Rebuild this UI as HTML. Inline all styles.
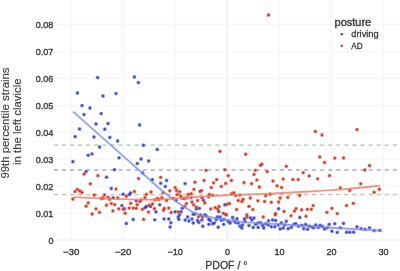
<!DOCTYPE html><html><head><meta charset="utf-8"><title>Scatter plot</title><style>html,body{margin:0;padding:0;background:#fff;}body{width:400px;height:271px;overflow:hidden;}svg{display:block;}</style></head><body><svg width="400" height="271" viewBox="0 0 400 271"><line x1="71.5" y1="0" x2="71.5" y2="240" stroke="#f5f5f7" stroke-width="1.3"/>
<line x1="123.5" y1="0" x2="123.5" y2="240" stroke="#f5f5f7" stroke-width="1.3"/>
<line x1="175.5" y1="0" x2="175.5" y2="240" stroke="#f5f5f7" stroke-width="1.3"/>
<line x1="279.5" y1="0" x2="279.5" y2="240" stroke="#f5f5f7" stroke-width="1.3"/>
<line x1="331.5" y1="0" x2="331.5" y2="240" stroke="#f5f5f7" stroke-width="1.3"/>
<line x1="383.5" y1="0" x2="383.5" y2="240" stroke="#f5f5f7" stroke-width="1.3"/>
<line x1="55.5" y1="213.06" x2="400" y2="213.06" stroke="#f5f5f7" stroke-width="1.3"/>
<line x1="55.5" y1="186.12" x2="400" y2="186.12" stroke="#f5f5f7" stroke-width="1.3"/>
<line x1="55.5" y1="159.18" x2="400" y2="159.18" stroke="#f5f5f7" stroke-width="1.3"/>
<line x1="55.5" y1="132.24" x2="400" y2="132.24" stroke="#f5f5f7" stroke-width="1.3"/>
<line x1="55.5" y1="105.3" x2="400" y2="105.3" stroke="#f5f5f7" stroke-width="1.3"/>
<line x1="55.5" y1="78.36" x2="400" y2="78.36" stroke="#f5f5f7" stroke-width="1.3"/>
<line x1="55.5" y1="51.42" x2="400" y2="51.42" stroke="#f5f5f7" stroke-width="1.3"/>
<line x1="55.5" y1="24.48" x2="400" y2="24.48" stroke="#f5f5f7" stroke-width="1.3"/>
<line x1="227.4" y1="0" x2="227.4" y2="241" stroke="#f0f1f4" stroke-width="1.7"/>
<line x1="55.5" y1="240.1" x2="400" y2="240.1" stroke="#f0f1f4" stroke-width="1.7"/>
<line x1="53.9" y1="145.1" x2="400" y2="145.1" stroke="#80bc8c" stroke-width="0.95" stroke-dasharray="4 4.07"/>
<line x1="53.9" y1="170" x2="400" y2="170" stroke="#6f77cc" stroke-width="0.95" stroke-dasharray="4 4.07"/>
<line x1="53.9" y1="194.7" x2="400" y2="194.7" stroke="#e2948e" stroke-width="0.95" stroke-dasharray="4 4.07"/>
<g fill="#4f5ce8" fill-opacity="0.75"><circle cx="97.6" cy="77.6" r="1.9"/><circle cx="134.4" cy="77" r="1.9"/><circle cx="138.4" cy="82.6" r="1.9"/><circle cx="77.4" cy="93" r="1.9"/><circle cx="103" cy="96" r="1.9"/><circle cx="116" cy="93.6" r="1.9"/><circle cx="82" cy="105.6" r="1.9"/><circle cx="90" cy="108" r="1.9"/><circle cx="84" cy="114.6" r="1.9"/><circle cx="101.2" cy="113.6" r="1.9"/><circle cx="96" cy="124" r="1.9"/><circle cx="108" cy="123.6" r="1.9"/><circle cx="79.6" cy="129" r="1.9"/><circle cx="104.8" cy="129.2" r="1.9"/><circle cx="139.6" cy="125" r="1.9"/><circle cx="75.2" cy="136.6" r="1.9"/><circle cx="94" cy="137" r="1.9"/><circle cx="109.8" cy="137.4" r="1.9"/><circle cx="117.6" cy="141" r="1.9"/><circle cx="99.6" cy="147" r="1.9"/><circle cx="92" cy="153.9" r="1.9"/><circle cx="143.4" cy="145.2" r="1.9"/><circle cx="157.2" cy="149.4" r="1.9"/><circle cx="88.2" cy="155.3" r="1.9"/><circle cx="72.9" cy="161.7" r="1.9"/><circle cx="86.1" cy="171.6" r="1.9"/><circle cx="119" cy="157.8" r="1.9"/><circle cx="141.1" cy="159" r="1.9"/><circle cx="148.6" cy="161" r="1.9"/><circle cx="137.3" cy="163.4" r="1.9"/><circle cx="114.5" cy="169.7" r="1.9"/><circle cx="142.6" cy="172.9" r="1.9"/><circle cx="106.5" cy="177.2" r="1.9"/><circle cx="152.3" cy="179.6" r="1.9"/><circle cx="166.6" cy="180.5" r="1.9"/><circle cx="160.7" cy="183.2" r="1.9"/><circle cx="185.1" cy="183.6" r="1.9"/><circle cx="111.3" cy="188.5" r="1.9"/><circle cx="123.2" cy="194.2" r="1.9"/><circle cx="129.4" cy="194.5" r="1.9"/><circle cx="130.7" cy="193" r="1.9"/><circle cx="113.2" cy="197.8" r="1.9"/><circle cx="136.1" cy="200.8" r="1.9"/><circle cx="121.9" cy="205.6" r="1.9"/><circle cx="145.1" cy="207.7" r="1.9"/><circle cx="146.4" cy="206.4" r="1.9"/><circle cx="124.4" cy="208.7" r="1.9"/><circle cx="165.3" cy="186.4" r="1.9"/><circle cx="176.1" cy="200.2" r="1.9"/><circle cx="191.1" cy="197.7" r="1.9"/><circle cx="159.8" cy="204.8" r="1.9"/><circle cx="150.6" cy="206.4" r="1.9"/><circle cx="156" cy="211.8" r="1.9"/><circle cx="175.1" cy="211.8" r="1.9"/><circle cx="181.1" cy="211.8" r="1.9"/><circle cx="182.3" cy="208.3" r="1.9"/><circle cx="193.2" cy="214.3" r="1.9"/><circle cx="179.5" cy="214.8" r="1.9"/><circle cx="203.5" cy="200.2" r="1.9"/><circle cx="224.8" cy="204.8" r="1.9"/><circle cx="199.4" cy="208.3" r="1.9"/><circle cx="196.3" cy="208.9" r="1.9"/><circle cx="218.8" cy="211.4" r="1.9"/><circle cx="195" cy="214" r="1.9"/><circle cx="205" cy="214.8" r="1.9"/><circle cx="200.7" cy="214.8" r="1.9"/><circle cx="226.3" cy="214.6" r="1.9"/><circle cx="278.6" cy="208.7" r="1.9"/><circle cx="133.2" cy="219.5" r="1.9"/><circle cx="126.3" cy="223.5" r="1.9"/><circle cx="154.8" cy="219.8" r="1.9"/><circle cx="164" cy="218.9" r="1.9"/><circle cx="168.8" cy="218.9" r="1.9"/><circle cx="170.9" cy="222.7" r="1.9"/><circle cx="170.1" cy="227" r="1.9"/><circle cx="178.2" cy="217" r="1.9"/><circle cx="178.8" cy="219.3" r="1.9"/><circle cx="185.1" cy="220.1" r="1.9"/><circle cx="187.6" cy="217" r="1.9"/><circle cx="188.9" cy="221" r="1.9"/><circle cx="192" cy="218.9" r="1.9"/><circle cx="193.2" cy="223" r="1.9"/><circle cx="206.3" cy="216.1" r="1.9"/><circle cx="197.5" cy="220.5" r="1.9"/><circle cx="198.8" cy="222.4" r="1.9"/><circle cx="201.9" cy="219.9" r="1.9"/><circle cx="208.8" cy="219.3" r="1.9"/><circle cx="210.3" cy="220.5" r="1.9"/><circle cx="216.3" cy="219.5" r="1.9"/><circle cx="217.3" cy="217" r="1.9"/><circle cx="220.1" cy="217" r="1.9"/><circle cx="221.3" cy="220.3" r="1.9"/><circle cx="223.8" cy="219.5" r="1.9"/><circle cx="228.2" cy="221.5" r="1.9"/><circle cx="232.6" cy="217.4" r="1.9"/><circle cx="237" cy="218.7" r="1.9"/><circle cx="233.9" cy="220.8" r="1.9"/><circle cx="230.1" cy="223" r="1.9"/><circle cx="238.2" cy="223" r="1.9"/><circle cx="208.8" cy="224.3" r="1.9"/><circle cx="212.6" cy="223.7" r="1.9"/><circle cx="214.4" cy="223" r="1.9"/><circle cx="223.6" cy="224.3" r="1.9"/><circle cx="202.8" cy="226.2" r="1.9"/><circle cx="218.2" cy="227.2" r="1.9"/><circle cx="244.4" cy="219" r="1.9"/><circle cx="250.3" cy="217.8" r="1.9"/><circle cx="254" cy="218" r="1.9"/><circle cx="251.9" cy="219.9" r="1.9"/><circle cx="245" cy="221.5" r="1.9"/><circle cx="235.6" cy="222.4" r="1.9"/><circle cx="240" cy="226.2" r="1.9"/><circle cx="242.5" cy="224.9" r="1.9"/><circle cx="241.9" cy="228" r="1.9"/><circle cx="249" cy="225.5" r="1.9"/><circle cx="253.2" cy="227.4" r="1.9"/><circle cx="255.7" cy="224.3" r="1.9"/><circle cx="258.2" cy="222.8" r="1.9"/><circle cx="260.7" cy="222.8" r="1.9"/><circle cx="258.2" cy="227.4" r="1.9"/><circle cx="262.6" cy="225.5" r="1.9"/><circle cx="263.8" cy="228" r="1.9"/><circle cx="265.7" cy="223.7" r="1.9"/><circle cx="268.6" cy="220.8" r="1.9"/><circle cx="268.2" cy="224.9" r="1.9"/><circle cx="271.3" cy="226.8" r="1.9"/><circle cx="272.6" cy="219.9" r="1.9"/><circle cx="275.7" cy="220.5" r="1.9"/><circle cx="274.8" cy="226.8" r="1.9"/><circle cx="278.2" cy="224.9" r="1.9"/><circle cx="281.4" cy="222.8" r="1.9"/><circle cx="280.1" cy="229" r="1.9"/><circle cx="283.2" cy="228" r="1.9"/><circle cx="299.8" cy="217.4" r="1.9"/><circle cx="286.3" cy="221.2" r="1.9"/><circle cx="284.8" cy="224.9" r="1.9"/><circle cx="288.1" cy="228.7" r="1.9"/><circle cx="291.3" cy="227.4" r="1.9"/><circle cx="293.8" cy="224.3" r="1.9"/><circle cx="295.7" cy="223.7" r="1.9"/><circle cx="298.5" cy="226.2" r="1.9"/><circle cx="301.9" cy="225.3" r="1.9"/><circle cx="305.7" cy="224.3" r="1.9"/><circle cx="303.8" cy="228.7" r="1.9"/><circle cx="307.6" cy="229.3" r="1.9"/><circle cx="309.4" cy="226.2" r="1.9"/><circle cx="312" cy="226.8" r="1.9"/><circle cx="313.6" cy="227.8" r="1.9"/><circle cx="315.7" cy="224.9" r="1.9"/><circle cx="318.2" cy="227.4" r="1.9"/><circle cx="320.1" cy="225.3" r="1.9"/><circle cx="322.6" cy="226.5" r="1.9"/><circle cx="324.5" cy="229" r="1.9"/><circle cx="327.4" cy="227.8" r="1.9"/><circle cx="329.1" cy="224.3" r="1.9"/><circle cx="334.8" cy="223.7" r="1.9"/><circle cx="343.5" cy="223.4" r="1.9"/><circle cx="331.9" cy="231.2" r="1.9"/><circle cx="337.3" cy="232.4" r="1.9"/><circle cx="340.3" cy="227.8" r="1.9"/><circle cx="346.6" cy="232.2" r="1.9"/><circle cx="349.8" cy="232.2" r="1.9"/><circle cx="353.6" cy="232.2" r="1.9"/><circle cx="357" cy="226.8" r="1.9"/><circle cx="361.1" cy="228.7" r="1.9"/><circle cx="365.1" cy="229.3" r="1.9"/><circle cx="369.5" cy="227.8" r="1.9"/><circle cx="374.1" cy="230.6" r="1.9"/><circle cx="379.8" cy="230.3" r="1.9"/></g>
<g fill="#3540ae"><circle cx="97.6" cy="77.6" r="1.0"/><circle cx="134.4" cy="77" r="1.0"/><circle cx="138.4" cy="82.6" r="1.0"/><circle cx="77.4" cy="93" r="1.0"/><circle cx="103" cy="96" r="1.0"/><circle cx="116" cy="93.6" r="1.0"/><circle cx="82" cy="105.6" r="1.0"/><circle cx="90" cy="108" r="1.0"/><circle cx="84" cy="114.6" r="1.0"/><circle cx="101.2" cy="113.6" r="1.0"/><circle cx="96" cy="124" r="1.0"/><circle cx="108" cy="123.6" r="1.0"/><circle cx="79.6" cy="129" r="1.0"/><circle cx="104.8" cy="129.2" r="1.0"/><circle cx="139.6" cy="125" r="1.0"/><circle cx="75.2" cy="136.6" r="1.0"/><circle cx="94" cy="137" r="1.0"/><circle cx="109.8" cy="137.4" r="1.0"/><circle cx="117.6" cy="141" r="1.0"/><circle cx="99.6" cy="147" r="1.0"/><circle cx="92" cy="153.9" r="1.0"/><circle cx="143.4" cy="145.2" r="1.0"/><circle cx="157.2" cy="149.4" r="1.0"/><circle cx="88.2" cy="155.3" r="1.0"/><circle cx="72.9" cy="161.7" r="1.0"/><circle cx="86.1" cy="171.6" r="1.0"/><circle cx="119" cy="157.8" r="1.0"/><circle cx="141.1" cy="159" r="1.0"/><circle cx="148.6" cy="161" r="1.0"/><circle cx="137.3" cy="163.4" r="1.0"/><circle cx="114.5" cy="169.7" r="1.0"/><circle cx="142.6" cy="172.9" r="1.0"/><circle cx="106.5" cy="177.2" r="1.0"/><circle cx="152.3" cy="179.6" r="1.0"/><circle cx="166.6" cy="180.5" r="1.0"/><circle cx="160.7" cy="183.2" r="1.0"/><circle cx="185.1" cy="183.6" r="1.0"/><circle cx="111.3" cy="188.5" r="1.0"/><circle cx="123.2" cy="194.2" r="1.0"/><circle cx="129.4" cy="194.5" r="1.0"/><circle cx="130.7" cy="193" r="1.0"/><circle cx="113.2" cy="197.8" r="1.0"/><circle cx="136.1" cy="200.8" r="1.0"/><circle cx="121.9" cy="205.6" r="1.0"/><circle cx="145.1" cy="207.7" r="1.0"/><circle cx="146.4" cy="206.4" r="1.0"/><circle cx="124.4" cy="208.7" r="1.0"/><circle cx="165.3" cy="186.4" r="1.0"/><circle cx="176.1" cy="200.2" r="1.0"/><circle cx="191.1" cy="197.7" r="1.0"/><circle cx="159.8" cy="204.8" r="1.0"/><circle cx="150.6" cy="206.4" r="1.0"/><circle cx="156" cy="211.8" r="1.0"/><circle cx="175.1" cy="211.8" r="1.0"/><circle cx="181.1" cy="211.8" r="1.0"/><circle cx="182.3" cy="208.3" r="1.0"/><circle cx="193.2" cy="214.3" r="1.0"/><circle cx="179.5" cy="214.8" r="1.0"/><circle cx="203.5" cy="200.2" r="1.0"/><circle cx="224.8" cy="204.8" r="1.0"/><circle cx="199.4" cy="208.3" r="1.0"/><circle cx="196.3" cy="208.9" r="1.0"/><circle cx="218.8" cy="211.4" r="1.0"/><circle cx="195" cy="214" r="1.0"/><circle cx="205" cy="214.8" r="1.0"/><circle cx="200.7" cy="214.8" r="1.0"/><circle cx="226.3" cy="214.6" r="1.0"/><circle cx="278.6" cy="208.7" r="1.0"/><circle cx="133.2" cy="219.5" r="1.0"/><circle cx="126.3" cy="223.5" r="1.0"/><circle cx="154.8" cy="219.8" r="1.0"/><circle cx="164" cy="218.9" r="1.0"/><circle cx="168.8" cy="218.9" r="1.0"/><circle cx="170.9" cy="222.7" r="1.0"/><circle cx="170.1" cy="227" r="1.0"/><circle cx="178.2" cy="217" r="1.0"/><circle cx="178.8" cy="219.3" r="1.0"/><circle cx="185.1" cy="220.1" r="1.0"/><circle cx="187.6" cy="217" r="1.0"/><circle cx="188.9" cy="221" r="1.0"/><circle cx="192" cy="218.9" r="1.0"/><circle cx="193.2" cy="223" r="1.0"/><circle cx="206.3" cy="216.1" r="1.0"/><circle cx="197.5" cy="220.5" r="1.0"/><circle cx="198.8" cy="222.4" r="1.0"/><circle cx="201.9" cy="219.9" r="1.0"/><circle cx="208.8" cy="219.3" r="1.0"/><circle cx="210.3" cy="220.5" r="1.0"/><circle cx="216.3" cy="219.5" r="1.0"/><circle cx="217.3" cy="217" r="1.0"/><circle cx="220.1" cy="217" r="1.0"/><circle cx="221.3" cy="220.3" r="1.0"/><circle cx="223.8" cy="219.5" r="1.0"/><circle cx="228.2" cy="221.5" r="1.0"/><circle cx="232.6" cy="217.4" r="1.0"/><circle cx="237" cy="218.7" r="1.0"/><circle cx="233.9" cy="220.8" r="1.0"/><circle cx="230.1" cy="223" r="1.0"/><circle cx="238.2" cy="223" r="1.0"/><circle cx="208.8" cy="224.3" r="1.0"/><circle cx="212.6" cy="223.7" r="1.0"/><circle cx="214.4" cy="223" r="1.0"/><circle cx="223.6" cy="224.3" r="1.0"/><circle cx="202.8" cy="226.2" r="1.0"/><circle cx="218.2" cy="227.2" r="1.0"/><circle cx="244.4" cy="219" r="1.0"/><circle cx="250.3" cy="217.8" r="1.0"/><circle cx="254" cy="218" r="1.0"/><circle cx="251.9" cy="219.9" r="1.0"/><circle cx="245" cy="221.5" r="1.0"/><circle cx="235.6" cy="222.4" r="1.0"/><circle cx="240" cy="226.2" r="1.0"/><circle cx="242.5" cy="224.9" r="1.0"/><circle cx="241.9" cy="228" r="1.0"/><circle cx="249" cy="225.5" r="1.0"/><circle cx="253.2" cy="227.4" r="1.0"/><circle cx="255.7" cy="224.3" r="1.0"/><circle cx="258.2" cy="222.8" r="1.0"/><circle cx="260.7" cy="222.8" r="1.0"/><circle cx="258.2" cy="227.4" r="1.0"/><circle cx="262.6" cy="225.5" r="1.0"/><circle cx="263.8" cy="228" r="1.0"/><circle cx="265.7" cy="223.7" r="1.0"/><circle cx="268.6" cy="220.8" r="1.0"/><circle cx="268.2" cy="224.9" r="1.0"/><circle cx="271.3" cy="226.8" r="1.0"/><circle cx="272.6" cy="219.9" r="1.0"/><circle cx="275.7" cy="220.5" r="1.0"/><circle cx="274.8" cy="226.8" r="1.0"/><circle cx="278.2" cy="224.9" r="1.0"/><circle cx="281.4" cy="222.8" r="1.0"/><circle cx="280.1" cy="229" r="1.0"/><circle cx="283.2" cy="228" r="1.0"/><circle cx="299.8" cy="217.4" r="1.0"/><circle cx="286.3" cy="221.2" r="1.0"/><circle cx="284.8" cy="224.9" r="1.0"/><circle cx="288.1" cy="228.7" r="1.0"/><circle cx="291.3" cy="227.4" r="1.0"/><circle cx="293.8" cy="224.3" r="1.0"/><circle cx="295.7" cy="223.7" r="1.0"/><circle cx="298.5" cy="226.2" r="1.0"/><circle cx="301.9" cy="225.3" r="1.0"/><circle cx="305.7" cy="224.3" r="1.0"/><circle cx="303.8" cy="228.7" r="1.0"/><circle cx="307.6" cy="229.3" r="1.0"/><circle cx="309.4" cy="226.2" r="1.0"/><circle cx="312" cy="226.8" r="1.0"/><circle cx="313.6" cy="227.8" r="1.0"/><circle cx="315.7" cy="224.9" r="1.0"/><circle cx="318.2" cy="227.4" r="1.0"/><circle cx="320.1" cy="225.3" r="1.0"/><circle cx="322.6" cy="226.5" r="1.0"/><circle cx="324.5" cy="229" r="1.0"/><circle cx="327.4" cy="227.8" r="1.0"/><circle cx="329.1" cy="224.3" r="1.0"/><circle cx="334.8" cy="223.7" r="1.0"/><circle cx="343.5" cy="223.4" r="1.0"/><circle cx="331.9" cy="231.2" r="1.0"/><circle cx="337.3" cy="232.4" r="1.0"/><circle cx="340.3" cy="227.8" r="1.0"/><circle cx="346.6" cy="232.2" r="1.0"/><circle cx="349.8" cy="232.2" r="1.0"/><circle cx="353.6" cy="232.2" r="1.0"/><circle cx="357" cy="226.8" r="1.0"/><circle cx="361.1" cy="228.7" r="1.0"/><circle cx="365.1" cy="229.3" r="1.0"/><circle cx="369.5" cy="227.8" r="1.0"/><circle cx="374.1" cy="230.6" r="1.0"/><circle cx="379.8" cy="230.3" r="1.0"/></g>
<g fill="#f0502f" fill-opacity="0.75"><circle cx="268.5" cy="15" r="1.9"/><circle cx="220" cy="151.3" r="1.9"/><circle cx="245.7" cy="154.2" r="1.9"/><circle cx="315.4" cy="131.4" r="1.9"/><circle cx="322" cy="135" r="1.9"/><circle cx="357" cy="129.6" r="1.9"/><circle cx="84.1" cy="174.1" r="1.9"/><circle cx="97.9" cy="175.7" r="1.9"/><circle cx="90.3" cy="183.8" r="1.9"/><circle cx="138.6" cy="178.6" r="1.9"/><circle cx="160.7" cy="177.3" r="1.9"/><circle cx="194.9" cy="182.2" r="1.9"/><circle cx="206" cy="170.3" r="1.9"/><circle cx="224.8" cy="169.7" r="1.9"/><circle cx="228.2" cy="175.7" r="1.9"/><circle cx="204" cy="180.5" r="1.9"/><circle cx="216.7" cy="179.6" r="1.9"/><circle cx="231.4" cy="180.5" r="1.9"/><circle cx="213.6" cy="182.8" r="1.9"/><circle cx="225.7" cy="183.4" r="1.9"/><circle cx="260.4" cy="165.3" r="1.9"/><circle cx="261.9" cy="164.2" r="1.9"/><circle cx="255.3" cy="170.3" r="1.9"/><circle cx="267.3" cy="171.7" r="1.9"/><circle cx="254" cy="174.4" r="1.9"/><circle cx="256.9" cy="180.1" r="1.9"/><circle cx="273" cy="181" r="1.9"/><circle cx="283.2" cy="179.1" r="1.9"/><circle cx="244" cy="182.6" r="1.9"/><circle cx="251.5" cy="183.7" r="1.9"/><circle cx="286.3" cy="166.3" r="1.9"/><circle cx="319.8" cy="156.9" r="1.9"/><circle cx="324.5" cy="162.5" r="1.9"/><circle cx="303.2" cy="172.7" r="1.9"/><circle cx="309.2" cy="175.9" r="1.9"/><circle cx="329.5" cy="175.7" r="1.9"/><circle cx="292.8" cy="179.6" r="1.9"/><circle cx="298.2" cy="179.6" r="1.9"/><circle cx="317.6" cy="178.8" r="1.9"/><circle cx="334.8" cy="158.1" r="1.9"/><circle cx="343.5" cy="157.9" r="1.9"/><circle cx="369.5" cy="165.7" r="1.9"/><circle cx="364.8" cy="170" r="1.9"/><circle cx="360.7" cy="183.8" r="1.9"/><circle cx="75" cy="191.6" r="1.9"/><circle cx="77.3" cy="189.3" r="1.9"/><circle cx="79.8" cy="191" r="1.9"/><circle cx="82" cy="192.4" r="1.9"/><circle cx="94.2" cy="195" r="1.9"/><circle cx="104.5" cy="195" r="1.9"/><circle cx="72.9" cy="199" r="1.9"/><circle cx="101.4" cy="198.5" r="1.9"/><circle cx="103.2" cy="198" r="1.9"/><circle cx="88.2" cy="202.9" r="1.9"/><circle cx="86.1" cy="206.2" r="1.9"/><circle cx="96" cy="208.8" r="1.9"/><circle cx="99.5" cy="212.3" r="1.9"/><circle cx="92.1" cy="214" r="1.9"/><circle cx="116" cy="189.1" r="1.9"/><circle cx="134.5" cy="191.4" r="1.9"/><circle cx="108.1" cy="197.3" r="1.9"/><circle cx="109.8" cy="199.3" r="1.9"/><circle cx="117.8" cy="197.9" r="1.9"/><circle cx="126.3" cy="196.2" r="1.9"/><circle cx="146.4" cy="194.3" r="1.9"/><circle cx="144.9" cy="197.7" r="1.9"/><circle cx="141.1" cy="199.9" r="1.9"/><circle cx="139.8" cy="201.4" r="1.9"/><circle cx="106.5" cy="205.2" r="1.9"/><circle cx="111.3" cy="203.6" r="1.9"/><circle cx="114.8" cy="204.7" r="1.9"/><circle cx="130.7" cy="203.3" r="1.9"/><circle cx="137.2" cy="204.7" r="1.9"/><circle cx="149.2" cy="205.2" r="1.9"/><circle cx="118.8" cy="208.8" r="1.9"/><circle cx="123.2" cy="209.3" r="1.9"/><circle cx="129.1" cy="208.1" r="1.9"/><circle cx="133.2" cy="208.1" r="1.9"/><circle cx="136.1" cy="208.3" r="1.9"/><circle cx="142.4" cy="209.2" r="1.9"/><circle cx="112.9" cy="210.8" r="1.9"/><circle cx="125.1" cy="213.2" r="1.9"/><circle cx="148.5" cy="212.1" r="1.9"/><circle cx="175.1" cy="187.6" r="1.9"/><circle cx="169.8" cy="190.8" r="1.9"/><circle cx="176.6" cy="190.5" r="1.9"/><circle cx="179.8" cy="191.8" r="1.9"/><circle cx="193.9" cy="189.3" r="1.9"/><circle cx="151" cy="192" r="1.9"/><circle cx="163.2" cy="192.7" r="1.9"/><circle cx="177.3" cy="194.5" r="1.9"/><circle cx="188.2" cy="194.3" r="1.9"/><circle cx="191.1" cy="193.7" r="1.9"/><circle cx="180.7" cy="196" r="1.9"/><circle cx="161.9" cy="197.7" r="1.9"/><circle cx="157.5" cy="198.5" r="1.9"/><circle cx="155" cy="199.8" r="1.9"/><circle cx="159" cy="199.5" r="1.9"/><circle cx="166.6" cy="200.5" r="1.9"/><circle cx="173.2" cy="198.3" r="1.9"/><circle cx="182.3" cy="198.3" r="1.9"/><circle cx="184.5" cy="198.5" r="1.9"/><circle cx="187" cy="197.7" r="1.9"/><circle cx="192" cy="202" r="1.9"/><circle cx="186.4" cy="203.6" r="1.9"/><circle cx="193.6" cy="204.8" r="1.9"/><circle cx="184.8" cy="206.4" r="1.9"/><circle cx="152.5" cy="203.9" r="1.9"/><circle cx="154.4" cy="208.7" r="1.9"/><circle cx="164.4" cy="208.3" r="1.9"/><circle cx="163.5" cy="210.2" r="1.9"/><circle cx="168.8" cy="208.1" r="1.9"/><circle cx="171.1" cy="212.5" r="1.9"/><circle cx="178.2" cy="211.8" r="1.9"/><circle cx="211.3" cy="187.6" r="1.9"/><circle cx="221.3" cy="186.4" r="1.9"/><circle cx="200" cy="191.4" r="1.9"/><circle cx="201.5" cy="190.6" r="1.9"/><circle cx="209.4" cy="194.5" r="1.9"/><circle cx="212.8" cy="195.2" r="1.9"/><circle cx="208.5" cy="196.8" r="1.9"/><circle cx="201.9" cy="197.7" r="1.9"/><circle cx="231.4" cy="193.9" r="1.9"/><circle cx="233.9" cy="192.7" r="1.9"/><circle cx="235.7" cy="195.5" r="1.9"/><circle cx="238.2" cy="200.5" r="1.9"/><circle cx="197.5" cy="200.5" r="1.9"/><circle cx="204.8" cy="203" r="1.9"/><circle cx="227" cy="204.3" r="1.9"/><circle cx="229.5" cy="203.6" r="1.9"/><circle cx="196.3" cy="207.1" r="1.9"/><circle cx="215.1" cy="207.7" r="1.9"/><circle cx="219.1" cy="206.4" r="1.9"/><circle cx="210.7" cy="208.9" r="1.9"/><circle cx="217.6" cy="208.9" r="1.9"/><circle cx="236.6" cy="209.4" r="1.9"/><circle cx="223.2" cy="213.3" r="1.9"/><circle cx="259.4" cy="187" r="1.9"/><circle cx="277" cy="185.8" r="1.9"/><circle cx="281.6" cy="187.6" r="1.9"/><circle cx="239.8" cy="195.2" r="1.9"/><circle cx="265.7" cy="195.8" r="1.9"/><circle cx="270.1" cy="194.2" r="1.9"/><circle cx="250.3" cy="198" r="1.9"/><circle cx="280.1" cy="198" r="1.9"/><circle cx="241.9" cy="201.4" r="1.9"/><circle cx="243.1" cy="199.3" r="1.9"/><circle cx="257.9" cy="200.8" r="1.9"/><circle cx="264.6" cy="201.4" r="1.9"/><circle cx="271.3" cy="202.3" r="1.9"/><circle cx="278.6" cy="202" r="1.9"/><circle cx="249" cy="206.4" r="1.9"/><circle cx="252.9" cy="209.6" r="1.9"/><circle cx="284.1" cy="211.4" r="1.9"/><circle cx="246.9" cy="214.8" r="1.9"/><circle cx="275.1" cy="214.8" r="1.9"/><circle cx="287.8" cy="197.3" r="1.9"/><circle cx="299.7" cy="195.5" r="1.9"/><circle cx="313.2" cy="205.6" r="1.9"/><circle cx="296" cy="208.6" r="1.9"/><circle cx="294.4" cy="211.1" r="1.9"/><circle cx="301.6" cy="209.8" r="1.9"/><circle cx="307.3" cy="209.3" r="1.9"/><circle cx="311.3" cy="209.3" r="1.9"/><circle cx="291" cy="215.8" r="1.9"/><circle cx="326.8" cy="212.3" r="1.9"/><circle cx="306" cy="216.2" r="1.9"/><circle cx="340.3" cy="188" r="1.9"/><circle cx="349.8" cy="190.5" r="1.9"/><circle cx="374.1" cy="192.2" r="1.9"/><circle cx="346.6" cy="205.6" r="1.9"/><circle cx="353.3" cy="203.3" r="1.9"/><circle cx="331.9" cy="208.3" r="1.9"/><circle cx="337.3" cy="213.6" r="1.9"/><circle cx="379.4" cy="189.2" r="1.9"/><circle cx="143.6" cy="219.3" r="1.9"/><circle cx="198.5" cy="216.8" r="1.9"/><circle cx="202.5" cy="217" r="1.9"/><circle cx="225.7" cy="214.5" r="1.9"/><circle cx="246.9" cy="217.2" r="1.9"/><circle cx="263.2" cy="217" r="1.9"/><circle cx="275.7" cy="213.6" r="1.9"/></g>
<g fill="#b8352c"><circle cx="268.5" cy="15" r="1.0"/><circle cx="220" cy="151.3" r="1.0"/><circle cx="245.7" cy="154.2" r="1.0"/><circle cx="315.4" cy="131.4" r="1.0"/><circle cx="322" cy="135" r="1.0"/><circle cx="357" cy="129.6" r="1.0"/><circle cx="84.1" cy="174.1" r="1.0"/><circle cx="97.9" cy="175.7" r="1.0"/><circle cx="90.3" cy="183.8" r="1.0"/><circle cx="138.6" cy="178.6" r="1.0"/><circle cx="160.7" cy="177.3" r="1.0"/><circle cx="194.9" cy="182.2" r="1.0"/><circle cx="206" cy="170.3" r="1.0"/><circle cx="224.8" cy="169.7" r="1.0"/><circle cx="228.2" cy="175.7" r="1.0"/><circle cx="204" cy="180.5" r="1.0"/><circle cx="216.7" cy="179.6" r="1.0"/><circle cx="231.4" cy="180.5" r="1.0"/><circle cx="213.6" cy="182.8" r="1.0"/><circle cx="225.7" cy="183.4" r="1.0"/><circle cx="260.4" cy="165.3" r="1.0"/><circle cx="261.9" cy="164.2" r="1.0"/><circle cx="255.3" cy="170.3" r="1.0"/><circle cx="267.3" cy="171.7" r="1.0"/><circle cx="254" cy="174.4" r="1.0"/><circle cx="256.9" cy="180.1" r="1.0"/><circle cx="273" cy="181" r="1.0"/><circle cx="283.2" cy="179.1" r="1.0"/><circle cx="244" cy="182.6" r="1.0"/><circle cx="251.5" cy="183.7" r="1.0"/><circle cx="286.3" cy="166.3" r="1.0"/><circle cx="319.8" cy="156.9" r="1.0"/><circle cx="324.5" cy="162.5" r="1.0"/><circle cx="303.2" cy="172.7" r="1.0"/><circle cx="309.2" cy="175.9" r="1.0"/><circle cx="329.5" cy="175.7" r="1.0"/><circle cx="292.8" cy="179.6" r="1.0"/><circle cx="298.2" cy="179.6" r="1.0"/><circle cx="317.6" cy="178.8" r="1.0"/><circle cx="334.8" cy="158.1" r="1.0"/><circle cx="343.5" cy="157.9" r="1.0"/><circle cx="369.5" cy="165.7" r="1.0"/><circle cx="364.8" cy="170" r="1.0"/><circle cx="360.7" cy="183.8" r="1.0"/><circle cx="75" cy="191.6" r="1.0"/><circle cx="77.3" cy="189.3" r="1.0"/><circle cx="79.8" cy="191" r="1.0"/><circle cx="82" cy="192.4" r="1.0"/><circle cx="94.2" cy="195" r="1.0"/><circle cx="104.5" cy="195" r="1.0"/><circle cx="72.9" cy="199" r="1.0"/><circle cx="101.4" cy="198.5" r="1.0"/><circle cx="103.2" cy="198" r="1.0"/><circle cx="88.2" cy="202.9" r="1.0"/><circle cx="86.1" cy="206.2" r="1.0"/><circle cx="96" cy="208.8" r="1.0"/><circle cx="99.5" cy="212.3" r="1.0"/><circle cx="92.1" cy="214" r="1.0"/><circle cx="116" cy="189.1" r="1.0"/><circle cx="134.5" cy="191.4" r="1.0"/><circle cx="108.1" cy="197.3" r="1.0"/><circle cx="109.8" cy="199.3" r="1.0"/><circle cx="117.8" cy="197.9" r="1.0"/><circle cx="126.3" cy="196.2" r="1.0"/><circle cx="146.4" cy="194.3" r="1.0"/><circle cx="144.9" cy="197.7" r="1.0"/><circle cx="141.1" cy="199.9" r="1.0"/><circle cx="139.8" cy="201.4" r="1.0"/><circle cx="106.5" cy="205.2" r="1.0"/><circle cx="111.3" cy="203.6" r="1.0"/><circle cx="114.8" cy="204.7" r="1.0"/><circle cx="130.7" cy="203.3" r="1.0"/><circle cx="137.2" cy="204.7" r="1.0"/><circle cx="149.2" cy="205.2" r="1.0"/><circle cx="118.8" cy="208.8" r="1.0"/><circle cx="123.2" cy="209.3" r="1.0"/><circle cx="129.1" cy="208.1" r="1.0"/><circle cx="133.2" cy="208.1" r="1.0"/><circle cx="136.1" cy="208.3" r="1.0"/><circle cx="142.4" cy="209.2" r="1.0"/><circle cx="112.9" cy="210.8" r="1.0"/><circle cx="125.1" cy="213.2" r="1.0"/><circle cx="148.5" cy="212.1" r="1.0"/><circle cx="175.1" cy="187.6" r="1.0"/><circle cx="169.8" cy="190.8" r="1.0"/><circle cx="176.6" cy="190.5" r="1.0"/><circle cx="179.8" cy="191.8" r="1.0"/><circle cx="193.9" cy="189.3" r="1.0"/><circle cx="151" cy="192" r="1.0"/><circle cx="163.2" cy="192.7" r="1.0"/><circle cx="177.3" cy="194.5" r="1.0"/><circle cx="188.2" cy="194.3" r="1.0"/><circle cx="191.1" cy="193.7" r="1.0"/><circle cx="180.7" cy="196" r="1.0"/><circle cx="161.9" cy="197.7" r="1.0"/><circle cx="157.5" cy="198.5" r="1.0"/><circle cx="155" cy="199.8" r="1.0"/><circle cx="159" cy="199.5" r="1.0"/><circle cx="166.6" cy="200.5" r="1.0"/><circle cx="173.2" cy="198.3" r="1.0"/><circle cx="182.3" cy="198.3" r="1.0"/><circle cx="184.5" cy="198.5" r="1.0"/><circle cx="187" cy="197.7" r="1.0"/><circle cx="192" cy="202" r="1.0"/><circle cx="186.4" cy="203.6" r="1.0"/><circle cx="193.6" cy="204.8" r="1.0"/><circle cx="184.8" cy="206.4" r="1.0"/><circle cx="152.5" cy="203.9" r="1.0"/><circle cx="154.4" cy="208.7" r="1.0"/><circle cx="164.4" cy="208.3" r="1.0"/><circle cx="163.5" cy="210.2" r="1.0"/><circle cx="168.8" cy="208.1" r="1.0"/><circle cx="171.1" cy="212.5" r="1.0"/><circle cx="178.2" cy="211.8" r="1.0"/><circle cx="211.3" cy="187.6" r="1.0"/><circle cx="221.3" cy="186.4" r="1.0"/><circle cx="200" cy="191.4" r="1.0"/><circle cx="201.5" cy="190.6" r="1.0"/><circle cx="209.4" cy="194.5" r="1.0"/><circle cx="212.8" cy="195.2" r="1.0"/><circle cx="208.5" cy="196.8" r="1.0"/><circle cx="201.9" cy="197.7" r="1.0"/><circle cx="231.4" cy="193.9" r="1.0"/><circle cx="233.9" cy="192.7" r="1.0"/><circle cx="235.7" cy="195.5" r="1.0"/><circle cx="238.2" cy="200.5" r="1.0"/><circle cx="197.5" cy="200.5" r="1.0"/><circle cx="204.8" cy="203" r="1.0"/><circle cx="227" cy="204.3" r="1.0"/><circle cx="229.5" cy="203.6" r="1.0"/><circle cx="196.3" cy="207.1" r="1.0"/><circle cx="215.1" cy="207.7" r="1.0"/><circle cx="219.1" cy="206.4" r="1.0"/><circle cx="210.7" cy="208.9" r="1.0"/><circle cx="217.6" cy="208.9" r="1.0"/><circle cx="236.6" cy="209.4" r="1.0"/><circle cx="223.2" cy="213.3" r="1.0"/><circle cx="259.4" cy="187" r="1.0"/><circle cx="277" cy="185.8" r="1.0"/><circle cx="281.6" cy="187.6" r="1.0"/><circle cx="239.8" cy="195.2" r="1.0"/><circle cx="265.7" cy="195.8" r="1.0"/><circle cx="270.1" cy="194.2" r="1.0"/><circle cx="250.3" cy="198" r="1.0"/><circle cx="280.1" cy="198" r="1.0"/><circle cx="241.9" cy="201.4" r="1.0"/><circle cx="243.1" cy="199.3" r="1.0"/><circle cx="257.9" cy="200.8" r="1.0"/><circle cx="264.6" cy="201.4" r="1.0"/><circle cx="271.3" cy="202.3" r="1.0"/><circle cx="278.6" cy="202" r="1.0"/><circle cx="249" cy="206.4" r="1.0"/><circle cx="252.9" cy="209.6" r="1.0"/><circle cx="284.1" cy="211.4" r="1.0"/><circle cx="246.9" cy="214.8" r="1.0"/><circle cx="275.1" cy="214.8" r="1.0"/><circle cx="287.8" cy="197.3" r="1.0"/><circle cx="299.7" cy="195.5" r="1.0"/><circle cx="313.2" cy="205.6" r="1.0"/><circle cx="296" cy="208.6" r="1.0"/><circle cx="294.4" cy="211.1" r="1.0"/><circle cx="301.6" cy="209.8" r="1.0"/><circle cx="307.3" cy="209.3" r="1.0"/><circle cx="311.3" cy="209.3" r="1.0"/><circle cx="291" cy="215.8" r="1.0"/><circle cx="326.8" cy="212.3" r="1.0"/><circle cx="306" cy="216.2" r="1.0"/><circle cx="340.3" cy="188" r="1.0"/><circle cx="349.8" cy="190.5" r="1.0"/><circle cx="374.1" cy="192.2" r="1.0"/><circle cx="346.6" cy="205.6" r="1.0"/><circle cx="353.3" cy="203.3" r="1.0"/><circle cx="331.9" cy="208.3" r="1.0"/><circle cx="337.3" cy="213.6" r="1.0"/><circle cx="379.4" cy="189.2" r="1.0"/><circle cx="143.6" cy="219.3" r="1.0"/><circle cx="198.5" cy="216.8" r="1.0"/><circle cx="202.5" cy="217" r="1.0"/><circle cx="225.7" cy="214.5" r="1.0"/><circle cx="246.9" cy="217.2" r="1.0"/><circle cx="263.2" cy="217" r="1.0"/><circle cx="275.7" cy="213.6" r="1.0"/></g>
<path d="M73,111.6 Q121,154 136,167.5 Q151,181 157.5,186.7 Q164,192.4 170,197 Q176,201.6 182,205.5 Q188,209.4 191.5,211.3 Q195,213.2 199.5,214.6 Q204,216 211,217.3 Q218,218.6 229,220.25 Q240,221.9 250,222.6 Q260,223.3 275,224.05 Q290,224.8 310,226.2 Q330,227.6 345,228.5 Q360,229.4 371,230.1 L382,230.8" fill="none" stroke="#7f89ee" stroke-opacity="0.8" stroke-width="1.9" stroke-linejoin="round"/>
<path d="M73.5,197.2 Q105,198.6 122.5,199.2 Q140,199.8 150,199.65 Q160,199.5 170,198.85 Q180,198.2 190,197.5 Q200,196.8 210,196.2 Q220,195.6 230,195.15 Q240,194.7 250,194.35 Q260,194 275,193.35 Q290,192.7 310,191.5 Q330,190.3 342.5,189.3 Q355,188.3 367.5,187 L380,185.7" fill="none" stroke="#f0806e" stroke-opacity="0.85" stroke-width="1.8" stroke-linejoin="round"/>
<g font-family="Liberation Sans, Arial, sans-serif" font-size="9" fill="#404040" stroke="#404040" stroke-width="0.4"><text x="53.4" y="243.6" text-anchor="end">0</text><text x="53.4" y="216.66" text-anchor="end">0.01</text><text x="53.4" y="189.72" text-anchor="end">0.02</text><text x="53.4" y="162.78" text-anchor="end">0.03</text><text x="53.4" y="135.84" text-anchor="end">0.04</text><text x="53.4" y="108.9" text-anchor="end">0.05</text><text x="53.4" y="81.96" text-anchor="end">0.06</text><text x="53.4" y="55.02" text-anchor="end">0.07</text><text x="53.4" y="28.08" text-anchor="end">0.08</text><text x="71.2" y="255.2" text-anchor="middle" textLength="16.6" lengthAdjust="spacingAndGlyphs">−30</text><text x="123.2" y="255.2" text-anchor="middle" textLength="16.6" lengthAdjust="spacingAndGlyphs">−20</text><text x="175.2" y="255.2" text-anchor="middle" textLength="15.4" lengthAdjust="spacingAndGlyphs">−10</text><text x="227.5" y="255.2" text-anchor="middle">0</text><text x="279.5" y="255.2" text-anchor="middle">10</text><text x="331.5" y="255.2" text-anchor="middle">20</text><text x="383.5" y="255.2" text-anchor="middle">30</text></g>
<text font-family="Liberation Sans, Arial, sans-serif" font-size="10.5" fill="#3d3d3d" stroke="#3d3d3d" stroke-width="0.3" x="226.4" y="268.8" text-anchor="middle">PDOF / °</text>
<g font-family="Liberation Sans, Arial, sans-serif" font-size="10" fill="#3d3d3d" stroke="#3d3d3d" stroke-width="0.15" transform="rotate(-90)"><text x="-123" y="8.8" text-anchor="middle" textLength="111" lengthAdjust="spacingAndGlyphs">99th percentile strains</text><text x="-121.7" y="21.3" text-anchor="middle" textLength="86.5" lengthAdjust="spacingAndGlyphs">in the left clavicle</text></g>
<text font-family="Liberation Sans, Arial, sans-serif" font-size="10.2" fill="#3d3d3d" stroke="#3d3d3d" stroke-width="0.4" x="334.6" y="26.0" textLength="36.6" lengthAdjust="spacingAndGlyphs">posture</text>
<text font-family="Liberation Sans, Arial, sans-serif" font-size="8.8" fill="#3d3d3d" stroke="#3d3d3d" stroke-width="0.3" x="351.3" y="37.3" textLength="27.4" lengthAdjust="spacingAndGlyphs">driving</text>
<text font-family="Liberation Sans, Arial, sans-serif" font-size="8.8" fill="#3d3d3d" stroke="#3d3d3d" stroke-width="0.3" x="351.3" y="49.4" textLength="11.3" lengthAdjust="spacingAndGlyphs">AD</text>
<circle cx="341.8" cy="34.3" r="1.3" fill="#4a54b8"/>
<circle cx="341.8" cy="45.9" r="1.3" fill="#c8503c"/></svg></body></html>
